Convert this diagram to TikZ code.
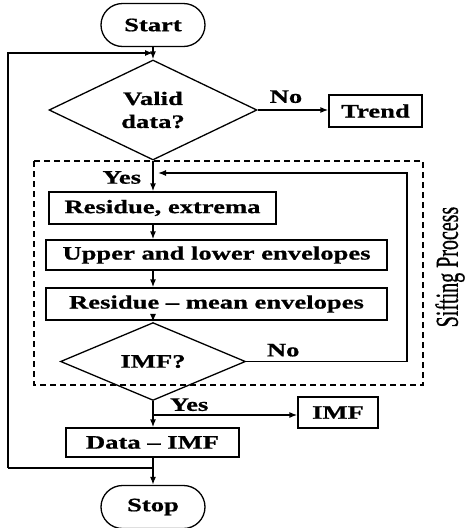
\documentclass[tikz,border=0pt]{standalone}
\usepackage{fontspec}
\setmainfont{Liberation Serif}
\newfontfamily\wideserif[FakeStretch=1.4,FakeBold=0.8,Ligatures=TeX]{Liberation Serif}
\newfontfamily\sideserif[FakeBold=0.8]{Liberation Serif}
\usetikzlibrary{shapes.geometric,shapes.misc,arrows.meta}

\tikzset{
  flowtext/.style={font=\wideserif\bfseries\fontsize{19pt}{23pt}\selectfont},
  box/.style={draw, line width=1.3pt, rectangle, inner sep=0pt, flowtext},
  term/.style={draw, line width=1.3pt, rounded rectangle, inner sep=0pt, minimum width=104pt, minimum height=43pt, flowtext},
  decide/.style={draw, line width=1.3pt, diamond, inner sep=0pt, align=center, flowtext},
  link/.style={line width=1.3pt, ->, >={Latex[length=8pt,width=6pt]}}
}

\begin{document}
\begin{tikzpicture}[x=1pt, y=-1pt]
\useasboundingbox (0,0) rectangle (474,528);
% main column
\node[term] (start) at (153,25) {Start};
\node[decide, minimum width=208pt, minimum height=86pt] (valid) at (153,110) {Valid\\data?};
\node[box, minimum width=93pt, minimum height=32pt] (trend) at (375.5,111) {Trend};
\node[box, minimum width=227pt, minimum height=32pt] (res) at (162.5,208) {Residue, extrema};
\node[box, minimum width=341pt, minimum height=30pt] (env) at (216.5,255) {Upper and lower envelopes};
\node[box, minimum width=341pt, minimum height=32pt] (mean) at (216.5,304) {Residue -- mean envelopes};
\node[decide, minimum width=185pt, minimum height=49pt] (imfq) at (153,361.5) {IMF?};
\node[box, minimum width=80pt, minimum height=31pt] (imf) at (338,412.5) {IMF};
\node[box, minimum width=173pt, minimum height=29pt] (data) at (152.5,442.5) {Data -- IMF};
\node[term] (stop) at (153,507) {Stop};
% sifting frame
\draw[line width=1.2pt, dash pattern=on 6pt off 4pt] (34,161) rectangle (423,385);
\node[rotate=90, font=\sideserif\fontsize{20pt}{24pt}\selectfont] (sift) at (450,267) {\scalebox{1}[1.6]{Sifting Process}};
% helper points
\coordinate (top) at (153,53);
\coordinate (back) at (8,53);
\coordinate (low) at (8,468);
\coordinate (join) at (153,468);
\coordinate (ret) at (407,361.5);
\coordinate (retup) at (407,173);
\coordinate (retin) at (158,173);
\coordinate (fork) at (153,415);
% connectors
\draw[link] (start.south) -- (valid.north);
\draw[link] (low) -- (back) -- (top);
\draw[link] (valid.east) -- node[above, flowtext, pos=0.4, yshift=3pt] {No} (valid.east -| trend.west);
\draw[link] (valid.south) -- node[left, flowtext, pos=0.55, xshift=-8pt] {Yes} (valid.south |- res.north);
\draw[link] (valid.south |- res.south) -- (valid.south |- env.north);
\draw[link] (valid.south |- env.south) -- (valid.south |- mean.north);
\draw[link] (valid.south |- mean.south) -- (imfq.north);
\draw[link] (imfq.east) -- node[above, flowtext, pos=0.23, yshift=1pt] {No} (ret) -- (retup) -- (retin);
\draw[link] (imfq.south) -- (valid.south |- data.north);
\draw[link] (fork) -- node[above, flowtext, pos=0.25] {Yes} (fork -| imf.west);
\draw[link] (valid.south |- data.south) -- (stop.north);
\draw[line width=1.3pt] (low) -- (join);
\end{tikzpicture}
\end{document}
